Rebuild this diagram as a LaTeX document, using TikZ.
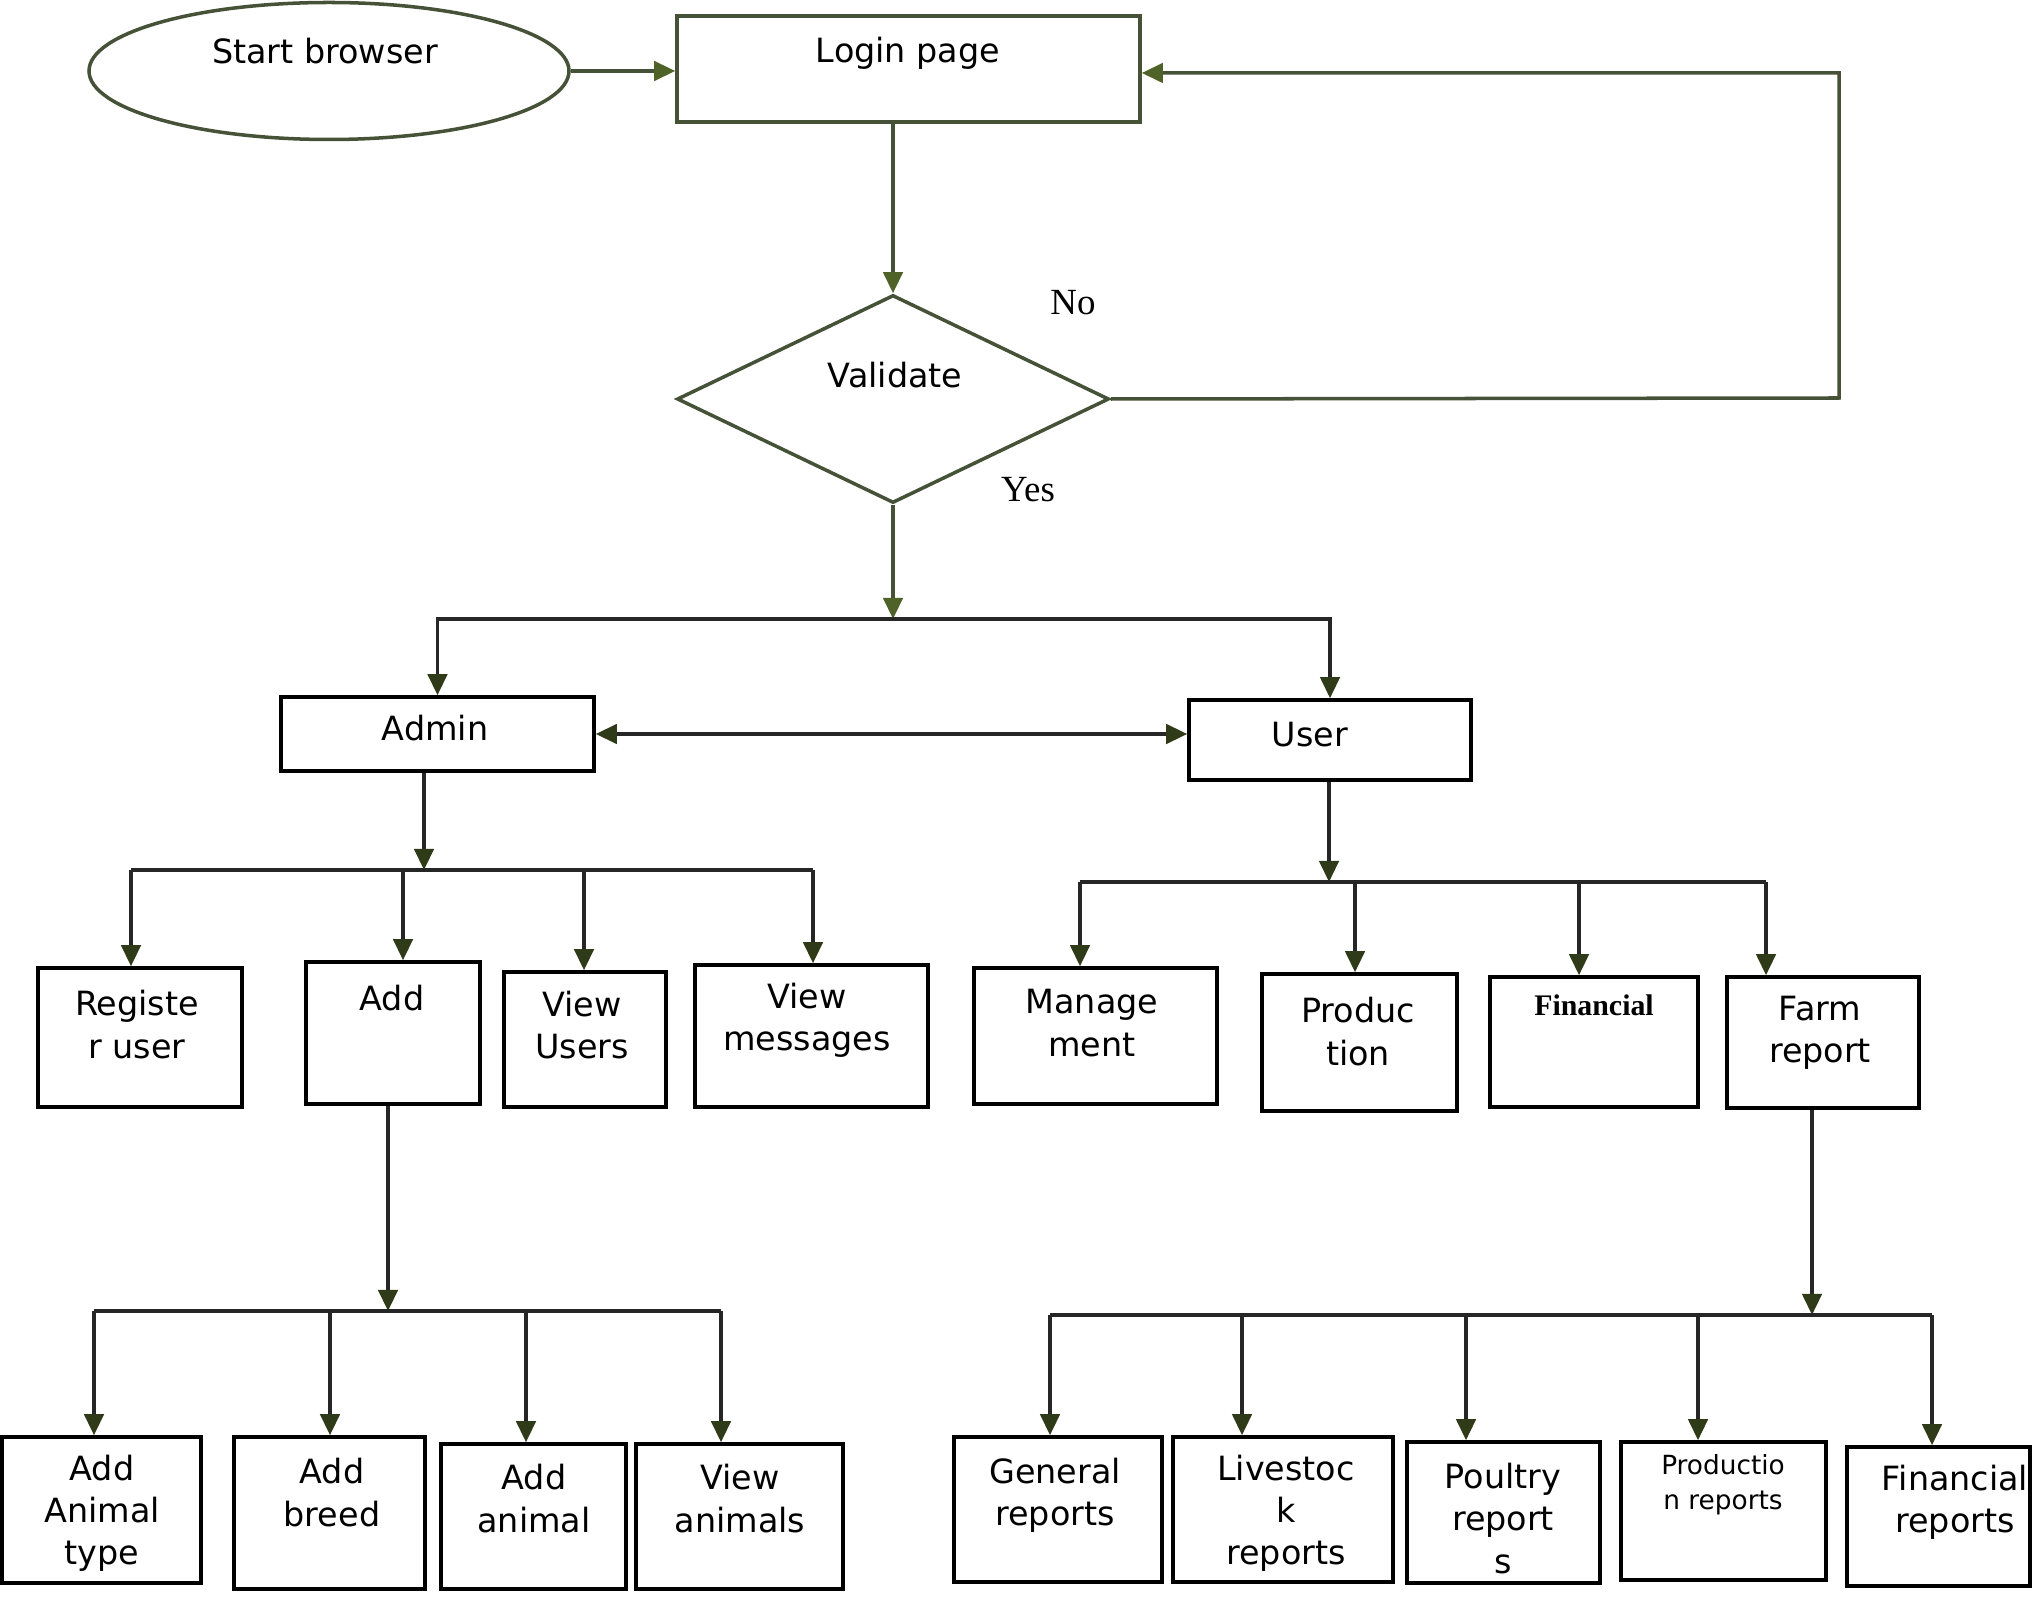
\documentclass[tikz,border=0pt]{standalone}
\usepackage{fontspec}
\setmainfont{DejaVu Sans}
\newfontfamily\yesnofont{Liberation Serif}
\usetikzlibrary{arrows.meta,shapes.geometric}
\definecolor{olivehead}{RGB}{79,98,40}
\definecolor{oliveline}{RGB}{70,82,55}

\begin{document}
\begin{tikzpicture}[
        box/.style={draw=black, line width=1pt, inner sep=0pt},
        lbl/.style={align=center, inner sep=0pt, font=\fontsize{9.5}{12}\selectfont},
        flow/.style={line width=1pt, draw=oliveline, -{Triangle[length=6pt,width=5.5pt,color=olivehead]}},
        tree/.style={line width=1pt, draw=black!85, -{Triangle[length=6pt,width=5.5pt,color=olivehead!60!black]}},
        bus/.style={line width=1pt, draw=black!85}
    ]
        \useasboundingbox (0,0) rectangle (20.36,-16.06);

        % start, login and validate
        \node[ellipse, draw=oliveline, line width=1pt, minimum width=4.80cm, minimum height=1.37cm, inner sep=0pt] (start) at (3.29,-0.71) {};
        \node[lbl] (tstart) at (3.25,-0.51) {Start browser};
        \node[box, draw=oliveline, minimum width=4.63cm, minimum height=1.06cm] (login) at (9.085,-0.69) {};
        \node[lbl] (tlogin) at (9.08,-0.53) {Login page};
        \node[diamond, draw=oliveline, line width=1pt, minimum width=4.32cm, minimum height=2.08cm, inner sep=0pt] (validate) at (8.93,-3.99) {};
        \node[lbl] (tvalidate) at (8.95,-3.75) {Validate};
        \node[inner sep=0pt, font=\yesnofont\fontsize{10.5}{12}\selectfont] (no) at (10.73,-3.03) {No};
        \node[inner sep=0pt, font=\yesnofont\fontsize{10.5}{12}\selectfont] (yes) at (10.28,-4.90) {Yes};

        \draw[flow] (start.east) -- (start.east -| login.west);
        \draw[flow] (validate.north |- login.south) -- (validate.north);
        \coordinate (loop) at (18.39,-3.98);
        \draw[flow] (validate.east) -- (loop) |- ([yshift=-0.04cm]login.east);

        % admin and user
        \node[box, minimum width=3.13cm, minimum height=0.74cm] (admin) at (4.375,-7.34) {};
        \node[lbl] (tadmin) at (4.35,-7.28) {Admin};
        \node[box, minimum width=2.82cm, minimum height=0.80cm] (user) at (13.30,-7.40) {};
        \node[lbl] (tuser) at (13.10,-7.35) {User};

        \coordinate (split1) at (8.93,-6.19);
        \draw[flow] (validate.south) -- (split1);
        \draw[tree] (split1) -| (admin.north);
        \draw[tree] (split1) -| (user.north);
        \draw[line width=1pt, draw=black!85, {Triangle[length=6pt,width=5.5pt,color=olivehead!60!black]}-{Triangle[length=6pt,width=5.5pt,color=olivehead!60!black]}] (admin.east) -- (admin.east -| user.west);

        % admin tasks
        \node[box, minimum width=2.04cm, minimum height=1.39cm] (reg) at (1.40,-10.375) {};
        \node[lbl] (treg) at (1.37,-10.245) {Registe\\r user};
        \node[box, minimum width=1.74cm, minimum height=1.42cm] (add) at (3.93,-10.33) {};
        \node[lbl] (tadd) at (3.92,-9.98) {Add};
        \node[box, minimum width=1.62cm, minimum height=1.35cm] (vusers) at (5.85,-10.395) {};
        \node[lbl] (tvusers) at (5.82,-10.25) {View\\Users};
        \node[box, minimum width=2.33cm, minimum height=1.42cm] (vmsg) at (8.115,-10.36) {};
        \node[lbl] (tvmsg) at (8.07,-10.205) {View\\messages};

        \coordinate (split2) at (4.24,-8.70);
        \draw[tree] (split2 |- admin.south) -- (split2);
        \coordinate (b2a) at (1.31,-8.70);
        \coordinate (b2b) at (4.03,-8.70);
        \coordinate (b2c) at (5.84,-8.70);
        \coordinate (b2d) at (8.13,-8.70);
        \draw[bus] (b2a) -- (b2d);
        \foreach \b/\n in {b2a/reg, b2b/add, b2c/vusers, b2d/vmsg}
            \draw[tree] (\b) -- (\b |- \n.north);

        % user tasks
        \node[box, minimum width=2.43cm, minimum height=1.36cm] (mgmt) at (10.955,-10.36) {};
        \node[lbl] (tmgmt) at (10.92,-10.23) {Manage\\ment};
        \node[box, minimum width=1.95cm, minimum height=1.37cm] (prod) at (13.595,-10.425) {};
        \node[lbl] (tprod) at (13.58,-10.315) {Produc\\tion};
        \node[box, minimum width=2.08cm, minimum height=1.30cm] (fin) at (15.94,-10.42) {};
        \node[inner sep=0pt, font=\yesnofont\bfseries\fontsize{8.5}{10}\selectfont] (tfin) at (15.94,-10.05) {Financial};
        \node[box, minimum width=1.92cm, minimum height=1.31cm] (farm) at (18.23,-10.425) {};
        \node[lbl] (tfarm) at (18.20,-10.325) {Farm\\report};

        \coordinate (split3) at (13.29,-8.82);
        \draw[tree] (split3 |- user.south) -- (split3);
        \coordinate (b3a) at (10.80,-8.82);
        \coordinate (b3b) at (13.55,-8.82);
        \coordinate (b3c) at (15.79,-8.82);
        \coordinate (b3d) at (17.66,-8.82);
        \draw[bus] (b3a) -- (b3d);
        \foreach \b/\n in {b3a/mgmt, b3b/prod, b3c/fin, b3d/farm}
            \draw[tree] (\b) -- (\b |- \n.north);

        % add menu
        \node[box, minimum width=1.99cm, minimum height=1.46cm] (addtype) at (1.015,-15.10) {};
        \node[lbl] (taddtype) at (1.02,-15.13) {Add\\Animal\\type};
        \node[box, minimum width=1.91cm, minimum height=1.52cm] (addbreed) at (3.295,-15.13) {};
        \node[lbl] (taddbreed) at (3.32,-14.925) {Add\\breed};
        \node[box, minimum width=1.85cm, minimum height=1.45cm] (addanimal) at (5.335,-15.165) {};
        \node[lbl] (taddanimal) at (5.34,-14.985) {Add\\animal};
        \node[box, minimum width=2.07cm, minimum height=1.45cm] (vanimals) at (7.395,-15.165) {};
        \node[lbl] (tvanimals) at (7.40,-14.985) {View\\animals};

        \coordinate (split5) at (3.88,-13.11);
        \draw[tree] (split5 |- add.south) -- (split5);
        \coordinate (b5a) at (0.94,-13.11);
        \coordinate (b5b) at (3.30,-13.11);
        \coordinate (b5c) at (5.26,-13.11);
        \coordinate (b5d) at (7.21,-13.11);
        \draw[bus] (b5a) -- (b5d);
        \foreach \b/\n in {b5a/addtype, b5b/addbreed, b5c/addanimal, b5d/vanimals}
            \draw[tree] (\b) -- (\b |- \n.north);

        % farm reports
        \node[box, minimum width=2.08cm, minimum height=1.45cm] (genrep) at (10.58,-15.095) {};
        \node[lbl] (tgenrep) at (10.55,-14.95) {General\\reports};
        \node[box, minimum width=2.20cm, minimum height=1.45cm] (livrep) at (12.83,-15.095) {};
        \node[lbl] (tlivrep) at (12.86,-15.13) {Livestoc\\k\\reports};
        \node[box, minimum width=1.93cm, minimum height=1.41cm] (poulrep) at (15.035,-15.125) {};
        \node[lbl] (tpoulrep) at (15.03,-15.185) {Poultry\\report\\s};
        \node[box, minimum width=2.05cm, minimum height=1.38cm] (prodrep) at (17.235,-15.11) {};
        \node[lbl, font=\fontsize{7.5}{10}\selectfont] (tprodrep) at (17.23,-14.845) {Productio\\n reports};
        \node[box, minimum width=1.83cm, minimum height=1.39cm] (finrep) at (19.385,-15.165) {};
        \node[lbl] (tfinrep) at (19.55,-15.025) {Financial\\reports};

        \coordinate (split4) at (18.12,-13.15);
        \draw[tree] (split4 |- farm.south) -- (split4);
        \coordinate (b4a) at (10.50,-13.15);
        \coordinate (b4b) at (12.42,-13.15);
        \coordinate (b4c) at (14.66,-13.15);
        \coordinate (b4d) at (16.98,-13.15);
        \coordinate (b4e) at (19.32,-13.15);
        \draw[bus] (b4a) -- (b4e);
        \foreach \b/\n in {b4a/genrep, b4b/livrep, b4c/poulrep, b4d/prodrep, b4e/finrep}
            \draw[tree] (\b) -- (\b |- \n.north);
    \end{tikzpicture}
\end{document}
